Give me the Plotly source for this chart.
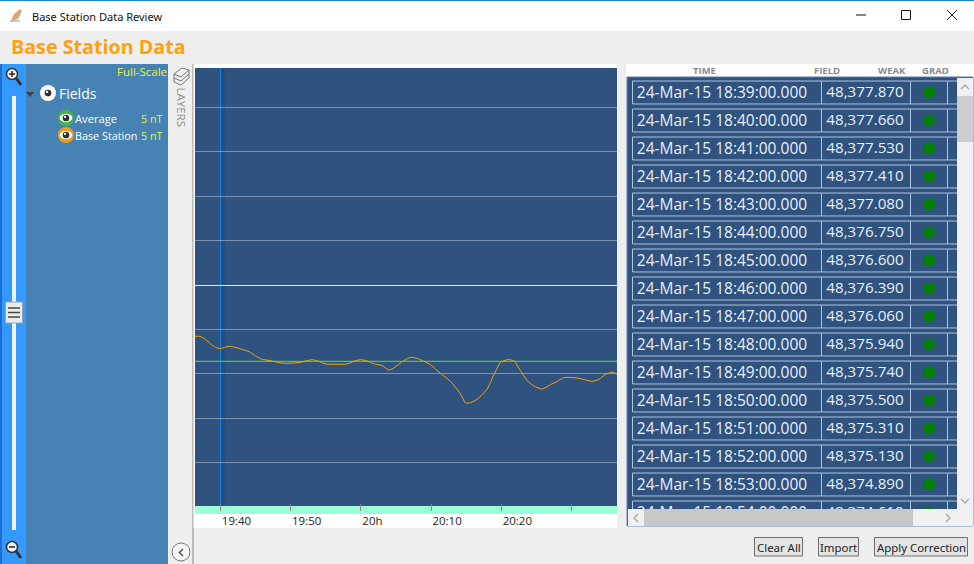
import pandas as pd
import plotly.graph_objects as go

# values
minutes = [0.40, 1.06, 1.87, 2.58, 3.29, 4.00, 4.72, 5.43, 6.38, 7.56, 8.28, 8.99, 9.94,
           11.13, 12.31, 13.26, 14.44, 15.40, 16.35, 17.07, 18.01, 18.96, 22.05, 22.99,
           23.95, 24.90, 25.84, 27.04, 27.98, 28.69, 30.11, 31.07, 32.02, 32.96, 33.92,
           34.63, 35.58, 36.77, 37.48, 38.19, 38.90, 39.62, 40.57, 41.28, 42.08, 42.93,
           43.89, 44.84, 45.78, 46.74, 47.69, 48.63, 49.83, 51.01, 51.97, 52.91, 54.33,
           55.28, 56.95, 57.89, 58.85, 59.80, 60.51]
base_station = [48364.22, 48364.22, 48363.88, 48363.36, 48362.98, 48362.83, 48363.02,
                48363.09, 48362.91, 48362.64, 48362.42, 48362.01, 48361.63, 48361.48,
                48361.26, 48361.18, 48361.22, 48361.29, 48361.48, 48361.59, 48361.41,
                48361.11, 48361.11, 48361.41, 48361.59, 48361.44, 48361.14, 48360.92,
                48360.43, 48360.65, 48361.48, 48361.86, 48361.74, 48361.41, 48361.03,
                48360.54, 48359.90, 48359.15, 48358.48, 48357.73, 48356.71, 48356.75,
                48357.13, 48357.65, 48358.40, 48359.87, 48361.29, 48361.59, 48361.48,
                48360.35, 48359.23, 48358.63, 48358.29, 48358.78, 48359.15, 48359.57,
                48359.57, 48359.45, 48359.15, 48359.38, 48359.94, 48360.17, 48359.98]
average = [48361.39] * len(minutes)
grid_values = [48390, 48385, 48380, 48375, 48370, 48365, 48360, 48355, 48350]
tick_times = ["2015-03-24 19:40", "2015-03-24 19:50", "2015-03-24 20:00",
              "2015-03-24 20:10", "2015-03-24 20:20", "2015-03-24 20:30"]
tick_labels = ["19:40", "19:50", "20h\u00a0\u00a0\u00a0", "20:10", "20:20", ""]
cursor_time = "2015-03-24 19:40"

row_times = ["24-Mar-15 18:39:00.000", "24-Mar-15 18:40:00.000", "24-Mar-15 18:41:00.000",
             "24-Mar-15 18:42:00.000", "24-Mar-15 18:43:00.000", "24-Mar-15 18:44:00.000",
             "24-Mar-15 18:45:00.000", "24-Mar-15 18:46:00.000", "24-Mar-15 18:47:00.000",
             "24-Mar-15 18:48:00.000", "24-Mar-15 18:49:00.000", "24-Mar-15 18:50:00.000",
             "24-Mar-15 18:51:00.000", "24-Mar-15 18:52:00.000", "24-Mar-15 18:53:00.000",
             "24-Mar-15 18:54:00.000"]
row_fields = [48377.870, 48377.660, 48377.530, 48377.410, 48377.080, 48376.750, 48376.600,
              48376.390, 48376.060, 48375.940, 48375.740, 48375.500, 48375.310, 48375.130,
              48374.890, 48374.610]

NAVY = "#30527f"
FONT = "Open Sans"
times = pd.Timestamp("2015-03-24 19:36") + pd.to_timedelta(minutes, unit="min")
rows = list(range(len(row_times)))


def fx(x):
    return x / 974


def fy(y):
    return 1 - y / 564


shapes = []
annotations = []


def rect(x0, y0, x1, y1, fill, line=None, width=1, layer="below"):
    shapes.append(dict(type="rect", xref="paper", yref="paper", x0=fx(x0), x1=fx(x1),
                       y0=fy(y0), y1=fy(y1), fillcolor=fill, layer=layer,
                       line=dict(color=line or fill, width=width if line else 0)))


def line(x0, y0, x1, y1, color, width=1, layer="above"):
    shapes.append(dict(type="line", xref="paper", yref="paper", x0=fx(x0), x1=fx(x1),
                       y0=fy(y0), y1=fy(y1), layer=layer, line=dict(color=color, width=width)))


def circle(cx, cy, rx, ry, fill, edge=None, width=1):
    shapes.append(dict(type="circle", xref="paper", yref="paper", x0=fx(cx - rx), x1=fx(cx + rx),
                       y0=fy(cy - ry), y1=fy(cy + ry), fillcolor=fill, layer="above",
                       line=dict(color=edge or fill, width=width if edge else 0)))


def poly(points, fill=None, edge=None, width=1):
    path = "M" + " L".join(f"{fx(x):.5f},{fy(y):.5f}" for x, y in points)
    if fill:
        path += " Z"
    shapes.append(dict(type="path", xref="paper", yref="paper", path=path, layer="above",
                       fillcolor=fill or "rgba(0,0,0,0)",
                       line=dict(color=edge or fill, width=width if edge else 0)))


def label(x, y, text, size, color, anchor="left", family=FONT, angle=0, weight=None):
    font = dict(family=family, size=size, color=color)
    if weight:
        font["weight"] = weight
    annotations.append(dict(xref="paper", yref="paper", x=fx(x), y=fy(y), text=text, showarrow=False,
                            xanchor=anchor, yanchor="middle", textangle=angle, font=font, borderpad=0))


def eye(cx, cy, ring, r):
    circle(cx, cy, r, r, ring)
    circle(cx, cy, r * 0.78, r * 0.52, "white")
    circle(cx, cy, r * 0.42, r * 0.42, "#333333")
    circle(cx - r * 0.12, cy - r * 0.14, r * 0.14, r * 0.14, "white")


def magnifier(cx, cy, minus_only):
    line(cx + 4, cy + 4, cx + 9, cy + 11, "#333333", 3)
    circle(cx, cy, 5.5, 5.5, "#f4f4f4", "#333333", 1.5)
    line(cx - 3, cy, cx + 3, cy, "#222222", 1.5)
    if not minus_only:
        line(cx, cy - 3, cx, cy + 3, "#222222", 1.5)


# window background
rect(0, 0, 974, 564, "#eeeeee")
rect(0, 1, 974, 31, "#ffffff")
rect(0, 0, 974, 1, "#1583d8")
poly([(11, 21), (14, 14), (20, 9), (22, 11), (18, 19)], fill="#d9a77a")
line(10, 21, 20, 21, "#999999", 1)
label(30.5, 16, "Base Station Data Review", 11, "#111111", family="Noto Sans")
line(856, 15, 866, 15, "#111111", 1)
rect(901.5, 10.5, 910.5, 19.5, "rgba(0,0,0,0)", "#111111", 1, "above")
line(947, 10, 957, 20, "#222222", 1)
line(957, 10, 947, 20, "#222222", 1)
label(9.5, 46.5, "Base Station Data", 19.7, "#ffa010", weight="bold")

# left panel
rect(0, 64, 26, 564, "#3399ff")
rect(0, 64, 2, 564, "#1f6fd0")
rect(26, 64, 168, 564, "#4682b4")
rect(168, 64, 192, 564, "#efefef")
line(193, 64, 193, 564, "#a8a8a8", 1.5, "below")
magnifier(12, 74, False)
magnifier(12, 547, True)
rect(12, 96, 16, 530, "#f2f2f2")
rect(5.5, 302, 22.5, 323, "#ebebeb", "#9aa4b4", 1, "above")
for ty in [308, 312.5, 317]:
    line(8, ty, 20, ty, "#444444", 1.5)
label(168, 72, "Full-Scale", 11.5, "#e6f24a", "right")
poly([(26, 92), (34, 92), (30, 97)], fill="#3a3f46")
eye(48, 93, "#ffffff", 8)
label(57.5, 93.5, "Fields", 14, "#ffffff")
eye(66, 118, "#43b649", 8)
eye(66, 135, "#f39c12", 8)
label(74, 118, "Average", 11.2, "#ffffff")
label(74, 135, "Base Station", 10.8, "#ffffff")
label(163.5, 118, "5 nT", 10.8, "#e6f24a", "right")
label(163.5, 135, "5 nT", 10.8, "#e6f24a", "right")

# layers strip
poly([(174, 74), (182, 68), (189, 70), (181, 77)], fill="#efefef", edge="#777777")
poly([(174, 74), (174, 78), (181, 81), (189, 74), (189, 70)], edge="#777777")
poly([(174, 78), (174, 82), (181, 85), (189, 78), (189, 74)], edge="#777777")
label(181, 107.5, "LAYERS", 11.5, "#8a8a8a", "center", angle=90)
circle(181, 552, 9, 9, "#f6f6f6", "#777777", 1)
poly([(183, 549), (179.5, 552.5), (183, 556)], edge="#555555", width=1.5)

# chart area
rect(193.5, 64, 617, 528, "#ffffff")
rect(195, 68, 617, 506, NAVY)
rect(195, 506, 617, 514, "#9cfcd8")
rect(220, 68, 225, 506, "rgba(20,40,80,0.18)")
shapes.append(dict(type="line", xref="x", yref="paper", x0=cursor_time, x1=cursor_time,
                   y0=fy(68), y1=fy(511), layer="below", line=dict(color="#0a84f0", width=1)))
# brighter rule, a hair under its grid value so it lands on one pixel row
shapes.append(dict(type="line", xref="paper", yref="y", x0=fx(195), x1=fx(617), y0=48369.945, y1=48369.945,
                   layer="below", line=dict(color="rgba(255,255,255,0.8)", width=1)))

# table frame
rect(626, 64, 974, 527, "#ffffff")
rect(627, 77, 973, 526, NAVY, "#5b7ba6", 1)
rect(957, 78, 973, 509, "#f0f0f0", layer="above")
rect(957, 96, 973, 142, "#cdcdcd", layer="above")
rect(628, 509, 973, 526, "#f0f0f0", layer="above")
rect(644, 509, 913, 526, "#c8c8c8", layer="above")
poly([(961, 89), (965, 85), (969, 89)], edge="#a0a0a0", width=1.2)
poly([(961, 499), (965, 503), (969, 499)], edge="#a0a0a0", width=1.2)
poly([(638, 514), (634, 518), (638, 522)], edge="#a0a0a0", width=1.2)
poly([(946, 514), (950, 518), (946, 522)], edge="#a0a0a0", width=1.2)
label(704, 70.5, "TIME", 9.5, "#8a8a8a", "center", weight="bold")
label(827, 70.5, "FIELD", 9.5, "#8a8a8a", "center", weight="bold")
label(892, 70.5, "WEAK", 9.5, "#8a8a8a", "center", weight="bold")
label(935, 70.5, "GRAD", 9.5, "#8a8a8a", "center", weight="bold")

# cell borders sit on the table's own axes
column_edges = [632.5, 821.5, 910.5, 947.5, 990]
for r in rows:
    for c in range(len(column_edges) - 1):
        shapes.append(dict(type="rect", xref="x2", yref="y2", x0=column_edges[c], x1=column_edges[c + 1],
                           y0=r - 0.41, y1=r + 0.41, layer="below",
                           line=dict(color="#b0c4de", width=1), fillcolor="rgba(0,0,0,0)"))

# buttons
for x0, x1, text in [(754, 802, "Clear All"), (818, 858, "Import"), (874, 967, "Apply Correction")]:
    rect(x0 + 0.5, 537.5, x1 + 0.5, 556, "#e4e4e4", "#707070", 1)
    label((x0 + x1) / 2 + 0.5, 547, text, 11.4, "#222222", "center", family="Noto Sans")

fig = go.Figure()
fig.add_trace(go.Scatter(x=times, y=average, mode="lines", line=dict(color="#3ecf3e", width=1.2),
                         hoverinfo="skip"))
fig.add_trace(go.Scatter(x=times, y=base_station, mode="lines",
                         line=dict(color="#ffa500", width=1, shape="spline", smoothing=0.5),
                         hoverinfo="skip"))

# table cells, nudged down a touch so the digits sit mid cell
time_rows = [r + 0.07 for r in rows]
field_rows = [r + 0.04 for r in rows]
fig.add_trace(go.Scatter(x=[722] * len(rows), y=time_rows, text=row_times, mode="text", xaxis="x2", yaxis="y2",
                         textfont=dict(family=FONT, size=15.5, color="#e8f0fa"), hoverinfo="skip"))
fig.add_trace(go.Scatter(x=[865] * len(rows), y=field_rows, text=[f"{v:,.3f}" for v in row_fields], mode="text",
                         xaxis="x2", yaxis="y2",
                         textfont=dict(family=FONT, size=15.2, color="#e8f0fa"), hoverinfo="skip"))
fig.add_trace(go.Scatter(x=[929] * len(rows), y=rows, mode="markers", xaxis="x2", yaxis="y2",
                         marker=dict(color="#008000", size=12), hoverinfo="skip"))

fig.update_layout(
    width=974, height=564, autosize=False, showlegend=False,
    margin=dict(l=0, r=0, t=0, b=0, pad=0),
    paper_bgcolor="#eeeeee", plot_bgcolor="rgba(0,0,0,0)",
    shapes=shapes, annotations=annotations,
    xaxis=dict(domain=[fx(195), fx(617)], anchor="y", type="date",
               range=["2015-03-24 19:36:22", "2015-03-24 20:36:29"],
               tickvals=tick_times, ticktext=tick_labels, ticks="inside", ticklen=7,
               tickcolor="#888888", tickwidth=1, showgrid=False, zeroline=False, showline=False,
               ticklabelshift=16, ticklabelstandoff=1,
               tickfont=dict(family=FONT, size=11.5, color="#222222")),
    yaxis=dict(domain=[fy(511), fy(68)], anchor="x", range=[48344.55, 48394.44],
               tickvals=grid_values, showticklabels=False, ticks="", zeroline=False, showline=False,
               gridcolor="rgba(255,255,255,0.38)", gridwidth=1),
    xaxis2=dict(domain=[fx(628), fx(957)], anchor="y2", range=[628, 957], visible=False),
    yaxis2=dict(domain=[fy(509), fy(78)], anchor="x2", range=[14.875, -0.518], visible=False),
)

fig.write_html("out.html", config=dict(displayModeBar=False),
               post_script="document.body.style.margin='0';document.body.style.overflow='hidden';")
